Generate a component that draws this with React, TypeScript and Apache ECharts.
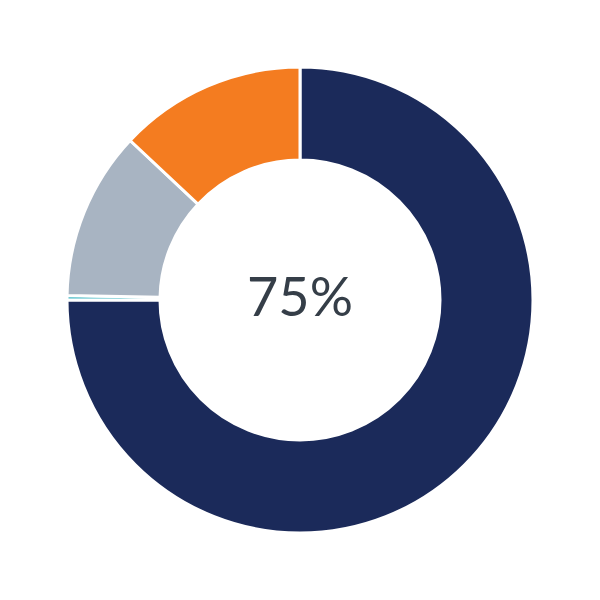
import React, { useEffect, useRef } from "react";
import * as echarts from "echarts";

const categories = ["A", "B", "C", "D"];
const values = [75, 0.3, 11.7, 13];
const colors = ["#1b2a5a", "#3cb6c2", "#a8b4c2", "#f47c20"];
const centerLabel = "75%";

export default function App() {
  const ref = useRef<HTMLDivElement>(null);
  useEffect(() => {
    const chart = echarts.init(ref.current!, null, { renderer: "svg" });
    chart.setOption({
      animation: false,
      graphic: [
        {
          type: "text",
          x: 300,
          y: 295,
          style: {
            text: centerLabel,
            fontSize: 54,
            fontFamily: "Lato",
            fill: "#353e48",
            textAlign: "center",
            textVerticalAlign: "middle",
          },
        },
      ],
      series: [
        {
          type: "pie",
          center: [300, 300],
          radius: [140, 233],
          startAngle: 90,
          clockwise: true,
          label: { show: false },
          labelLine: { show: false },
          itemStyle: { borderColor: "#ffffff", borderWidth: 3 },
          emphasis: { disabled: true },
          data: categories.map((c, i) => ({
            name: c,
            value: values[i],
            itemStyle: { color: colors[i] },
          })),
        },
      ],
    });
    return () => chart.dispose();
  }, []);
  return (
    <div
      ref={ref}
      style={{ position: "absolute", left: 0, top: 0, width: 600, height: 600 }}
    />
  );
}
